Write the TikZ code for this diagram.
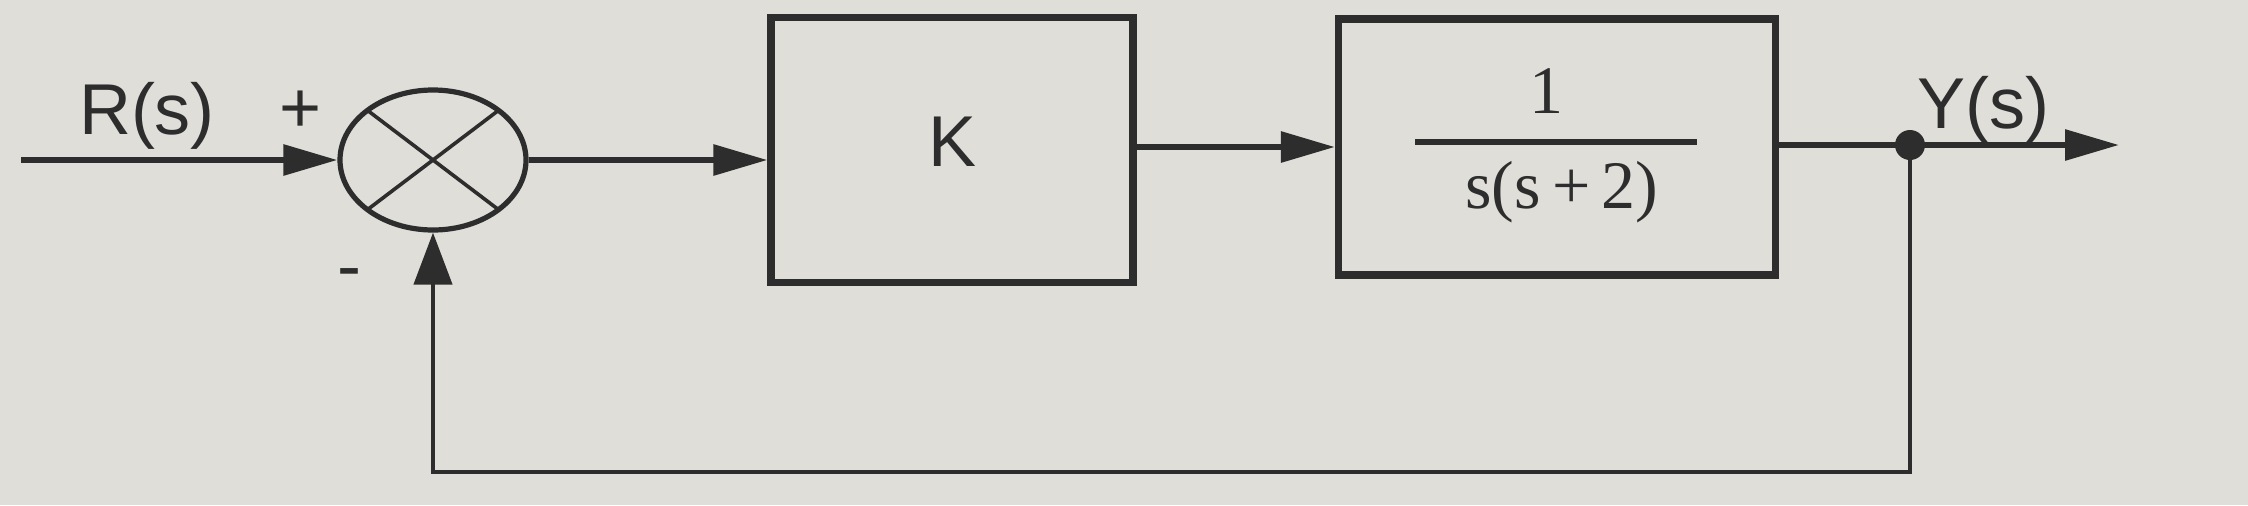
\documentclass[tikz,border=0pt]{standalone}
\usepackage{fontspec}
\setmainfont{Liberation Sans}
\newfontfamily\tmsfont{Liberation Serif}
\usetikzlibrary{arrows.meta,shapes.geometric}
\definecolor{ink}{RGB}{45,45,45}
\definecolor{paper}{RGB}{224,222,217}
\tikzset{
  ln/.style={draw=ink, line width=3pt},
  arr/.style={ln, -{Triangle[length=27pt,width=15pt]}},
  fb/.style={draw=ink, line width=2.2pt, line join=miter, -{Triangle[length=26pt,width=19pt]}},
  sumj/.style={ellipse, draw=ink, line width=2.6pt, minimum width=93pt, minimum height=70pt, inner sep=0pt},
  xline/.style={draw=ink, line width=1.8pt},
  blk/.style={rectangle, draw=ink, line width=3.6pt, inner sep=0pt, text=ink,
              font=\fontsize{36}{42}\selectfont},
  lbl/.style={text=ink, inner sep=0pt, font=\fontsize{36}{42}\selectfont},
  frac/.style={text=ink, inner sep=0pt, font=\fontsize{34}{40}\selectfont\tmsfont},
  bar/.style={draw=ink, line width=2.6pt},
  dotn/.style={circle, fill=ink, inner sep=0pt, minimum size=15pt}
}
\begin{document}
\begin{tikzpicture}[x=0.5pt,y=-0.5pt]
\fill[paper] (0,0) rectangle (2248,505);
\useasboundingbox (0,0) rectangle (2248,505);
% summing junction
\node[sumj] (s) at (433,160) {};
\draw[xline] (367,110) -- (499,210);
\draw[xline] (367,210) -- (499,110);
% blocks
\node[blk, minimum width=181pt, minimum height=132.5pt] (K) at (952,150) {\raisebox{8pt}{K}};
\node[blk, minimum width=218.5pt, minimum height=128pt] (P) at (1557,147) {};
\node[frac] (num) at (1546,91) {1};
\draw[bar] (1415,142) -- (1697,142);
\node[frac] (den) at (1562,192) {s(s\,+\,2)};
% labels
\node[lbl, anchor=base] (rl) at (147,134) {R(s)};
\node[lbl] (pl) at (301,112) {+};
\node[lbl, anchor=base] (ml) at (349,290) {-};
\node[lbl, anchor=base] (yl) at (1983,128) {Y(s)};
% connectors
\coordinate (in) at (21,160);
\coordinate (out) at (2119,145);
\node[dotn] (d) at (1910,145) {};
\coordinate (b1) at (1910,472);
\coordinate (b2) at (433,472);
\draw[arr] (in) -- (s.west);
\draw[arr] (s.east) -- (K.west |- s.east);
\draw[arr] (K.east |- P.west) -- (P.west);
\draw[arr] (P.east |- d.center) -- (out);
\draw[fb] (d.center) -- (b1) -- (b2) -- (s.south);
\end{tikzpicture}
\end{document}
